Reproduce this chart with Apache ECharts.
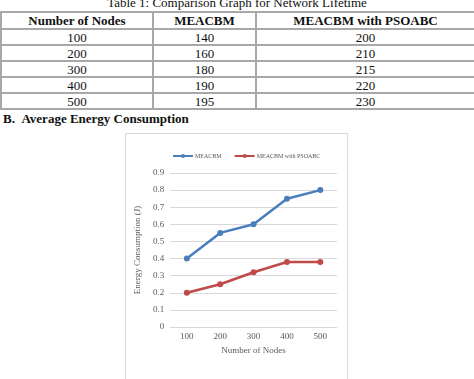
<!DOCTYPE html>
<html>
<head>
<meta charset="utf-8">
<script src="https://cdn.jsdelivr.net/npm/echarts@6/dist/echarts.min.js"></script>
<style>
  html, body { margin: 0; padding: 0; background: #fff; width: 474px; height: 379px; overflow: hidden; position: relative; font-family: "Liberation Serif", serif; }
  #title { position: absolute; left: 0; top: -5px; width: 474px; text-align: center; font-size: 13px; color: #111; white-space: nowrap; font-family: "Liberation Serif", serif; }
  #tbl { position: absolute; left: 0; top: 11px; width: 474px; border-collapse: collapse; table-layout: fixed; font-size: 13px; color: #111; font-family: "Liberation Serif", serif; }
  #tbl td, #tbl th { border: 2px solid #a8a8a8; text-align: center; padding: 0; line-height: 13px; font-family: "Liberation Serif", serif; font-size: 13px; }
  #tbl th { font-weight: bold; height: 15px; }
  #tbl td { height: 14px; }
  #sec { position: absolute; left: 3px; top: 111px; font-size: 13px; font-weight: bold; color: #111; white-space: nowrap; font-family: "Liberation Serif", serif; }
  #chartBox { position: absolute; left: 125px; top: 133px; width: 223px; height: 260px; border: 1px solid #d9d9d9; box-sizing: border-box; }
  #chart { width: 223px; height: 260px; position: absolute; left: -1px; top: -1px; }
</style>
</head>
<body>
<div id="title"></div>
<table id="tbl"></table>
<div id="sec"></div>
<div id="chartBox"><div id="chart"></div></div>
<script>
const tableTitle = "Table 1: Comparison Graph for Network Lifetime";
const tableHeaders = ["Number of Nodes", "MEACBM", "MEACBM with PSOABC"];
const nodes = [100, 200, 300, 400, 500];
const lifetimeMEACBM = [140, 160, 180, 190, 195];
const lifetimePSOABC = [200, 210, 215, 220, 230];
const sectionTitle = "B.\u00a0\u00a0Average Energy Consumption";
const seriesNames = ["MEACBM", "MEACBM with PSOABC"];
const energyMEACBM = [0.4, 0.55, 0.6, 0.75, 0.8];
const energyPSOABC = [0.2, 0.25, 0.32, 0.38, 0.38];
const xAxisTitle = "Number of Nodes";
const yAxisTitle = "Energy Consumption (J)";

document.getElementById('title').textContent = tableTitle;
document.getElementById('sec').textContent = sectionTitle;
const tbl = document.getElementById('tbl');
const colW = [152, 103, 219];
let html = '<colgroup>' + colW.map(w => '<col style="width:' + w + 'px">').join('') + '</colgroup>';
html += '<tr>' + tableHeaders.map(h => '<th>' + h + '</th>').join('') + '</tr>';
nodes.forEach((n, i) => {
  html += '<tr><td>' + n + '</td><td>' + lifetimeMEACBM[i] + '</td><td>' + lifetimePSOABC[i] + '</td></tr>';
});
tbl.innerHTML = html;

const chart = echarts.init(document.getElementById('chart'), null, { renderer: 'canvas' });
const font = '"Liberation Serif", serif';
chart.setOption({
  animation: false,
  textStyle: { fontFamily: font },
  legend: {
    top: 20,
    left: 47,
    padding: 0,
    itemWidth: 20,
    itemHeight: 5,
    itemGap: 12,
    textStyle: { fontSize: 6, color: '#595959', fontFamily: font, padding: [0, 0, 0, -3] },
    data: seriesNames
  },
  grid: { left: 38, right: 11, top: 40, height: 154, containLabel: false },
  xAxis: {
    type: 'category',
    data: nodes.map(String),
    boundaryGap: true,
    axisLine: { lineStyle: { color: '#d9d9d9', width: 1 } },
    axisTick: { show: false },
    axisLabel: { fontSize: 9, color: '#595959', margin: 5, fontFamily: font },
    name: xAxisTitle,
    nameLocation: 'middle',
    nameGap: 17,
    nameTextStyle: { fontSize: 9, color: '#595959', fontFamily: font }
  },
  yAxis: {
    type: 'value',
    min: 0, max: 0.9, interval: 0.1,
    axisLine: { show: false },
    axisTick: { show: false },
    splitLine: { lineStyle: { color: '#d9d9d9', width: 1 } },
    axisLabel: { fontSize: 9, color: '#595959', margin: 6, fontFamily: font,
      formatter: v => (Math.round(v * 10) / 10).toString() },
    name: yAxisTitle,
    nameLocation: 'middle',
    nameGap: 21,
    nameRotate: 90,
    nameTextStyle: { fontSize: 9, color: '#595959', fontFamily: font }
  },
  series: [
    {
      name: seriesNames[0], type: 'line', data: energyMEACBM,
      symbol: 'circle', symbolSize: 6,
      lineStyle: { color: '#4a7ebb', width: 2.5 },
      itemStyle: { color: '#4a7ebb' }
    },
    {
      name: seriesNames[1], type: 'line', data: energyPSOABC,
      symbol: 'circle', symbolSize: 6,
      lineStyle: { color: '#be4b48', width: 2.5 },
      itemStyle: { color: '#be4b48' }
    }
  ]
});
</script>
</body>
</html>
